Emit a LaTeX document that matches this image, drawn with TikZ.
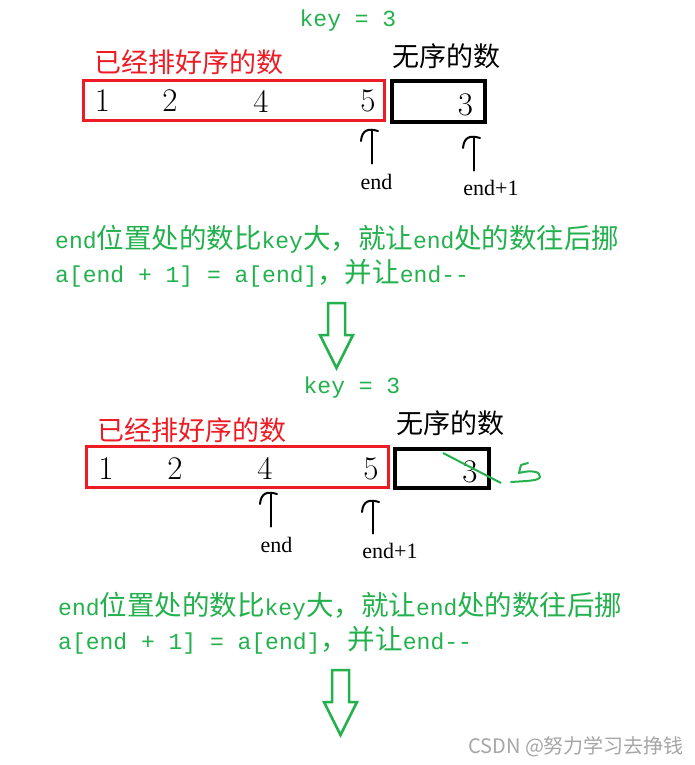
\documentclass[tikz,border=0pt]{standalone}
\usepackage{fontspec}
\setmonofont{Liberation Mono}
\newfontfamily\cjk{Noto Sans CJK SC}
\newfontfamily\tnr{Liberation Serif}
\definecolor{PaintGreen}{RGB}{34,177,76}
\definecolor{PaintRed}{RGB}{237,28,36}
\newcommand\zh[1]{{\cjk\fontsize{27.5}{27.5}\selectfont #1}}

\tikzset{
  num/.style={inner sep=0pt,font=\fontsize{33}{33}\selectfont},
  heading/.style={inner sep=0pt,font=\cjk\fontsize{27}{27}\selectfont},
  keytext/.style={inner sep=0pt,text=PaintGreen,font=\ttfamily\fontsize{23}{23}\selectfont},
  note/.style={inner sep=0pt,anchor=west,text=PaintGreen,font=\ttfamily\fontsize{23}{23}\selectfont},
  pointer/.style={inner sep=0pt,anchor=base,font=\tnr\fontsize{22}{22}\selectfont},
  pen/.style={line width=2pt,line cap=round},
  redbox/.style={draw=PaintRed,line width=3pt,inner sep=0pt},
  blackbox/.style={draw,line width=4pt,inner sep=0pt},
  hook/.pic={\draw[pen] (-11,11) .. controls (-10,0) and (-4,-2) .. (6,1);},
  hollow/.pic={\draw[PaintGreen,line width=2.5pt,line join=miter]
    (-8.5,-65) -- (8.5,-65) -- (8.5,-33) -- (16.5,-33) -- (0,0) -- (-16.5,-33) -- (-8.5,-33) -- cycle;}
}

\begin{document}
\begin{tikzpicture}[x=1pt,y=-1pt]
\fill[white] (0,0) rectangle (694,765);
\useasboundingbox (0,0) rectangle (694,765);

% first step
\node[keytext] (keyA) at (348,21) {key = 3};
\node[heading,text=PaintRed] (sortedA) at (189,62) {已经排好序的数};
\node[heading] (unsortedA) at (446,56) {无序的数};
\node[redbox,minimum width=301,minimum height=40] (boxA) at (234,100.5) {};
\node[blackbox,minimum width=93,minimum height=41] (restA) at (438.5,101.5) {};
\foreach \v/\x in {1/102.5,2/170,4/261,5/368}
  \node[num] (a\v) at (\x,101) {\v};
\node[num] (threeA) at (465.5,105) {3};

\coordinate (tA1) at (372,130);
\coordinate (tA2) at (474,137);
\node[pointer] (endA) at (376.5,189) {end};
\node[pointer] (nextA) at (491,195) {end+1};
\draw[pen,shorten <=10pt] (endA.north -| tA1) -- (tA1);
\draw[pen,shorten <=9pt] (nextA.north -| tA2) -- (tA2);
\pic at (tA1) {hook};
\pic at (tA2) {hook};

\node[note] (noteA1) at (55,239) {end\zh{位置处的数比}key\zh{大，就让}end\zh{处的数往后挪}};
\node[note] (noteA2) at (55,273) {a[end + 1] = a[end]\zh{，并让}end-\kern0pt-};
\pic at (336.5,368) {hollow};

% second step
\node[keytext] (keyB) at (352,388) {key = 3};
\node[heading,text=PaintRed] (sortedB) at (192,430) {已经排好序的数};
\node[heading] (unsortedB) at (450,423) {无序的数};
\node[redbox,minimum width=302,minimum height=41] (boxB) at (237.5,467) {};
\node[blackbox,minimum width=94,minimum height=39] (restB) at (442,468.5) {};
\foreach \v/\x in {1/106,2/175,4/265,5/371}
  \node[num] (b\v) at (\x,468.5) {\v};
\node[num] (threeB) at (470,472) {3};
\draw[PaintGreen,line width=2pt] (443,453) -- (501,483);
\draw[PaintGreen,line width=2pt,line cap=round,line join=round]
  (528,463) -- (521,465) -- (519,473) .. controls (530,470) and (541,471) .. (540,477)
  .. controls (539,481) and (525,481) .. (511,482);

\coordinate (tB1) at (271,493);
\coordinate (tB2) at (373,501);
\node[pointer] (endB) at (276.5,552) {end};
\node[pointer] (nextB) at (390,558) {end+1};
\draw[pen,shorten <=10pt] (endB.north -| tB1) -- (tB1);
\draw[pen,shorten <=9pt] (nextB.north -| tB2) -- (tB2);
\pic at (tB1) {hook};
\pic at (tB2) {hook};

\node[note] (noteB1) at (58,606) {end\zh{位置处的数比}key\zh{大，就让}end\zh{处的数往后挪}};
\node[note] (noteB2) at (58,640) {a[end + 1] = a[end]\zh{，并让}end-\kern0pt-};
\pic at (340.5,735) {hollow};

\node[inner sep=0pt,anchor=west,text=black!35,font=\cjk\fontsize{20}{20}\selectfont] (mark) at (468,747) {CSDN @努力学习去挣钱};
\end{tikzpicture}
\end{document}
